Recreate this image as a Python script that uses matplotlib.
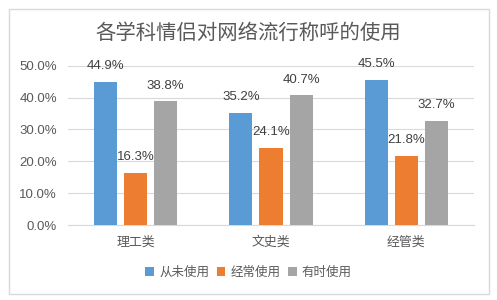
import matplotlib.pyplot as plt
import numpy as np
from matplotlib.patches import Rectangle
from matplotlib.ticker import FuncFormatter

plt.rcParams['font.family'] = ['Liberation Sans', 'Noto Sans CJK SC', 'DejaVu Sans']

categories = ['理工类', '文史类', '经管类']
series_names = ['从未使用', '经常使用', '有时使用']
never_used = [44.9, 35.2, 45.5]
often_used = [16.3, 24.1, 21.8]
sometimes_used = [38.8, 40.7, 32.7]
colors = ['#5B9BD5', '#ED7D31', '#A5A5A5']

text_color = '#595959'
grid_color = '#D9D9D9'

fig = plt.figure(figsize=(4.97, 3.0), dpi=100)
ax = fig.add_axes([68 / 497, 1 - 225 / 300, (474 - 68) / 497, (225 - 65.7) / 300])

# chart frame
fig.patches.append(Rectangle((9 / 497, 1 - 294 / 300), 480 / 497, 285 / 300,
                             transform=fig.transFigure, fill=False,
                             edgecolor=grid_color, linewidth=1))

x = np.arange(len(categories))
width = 0.17
step = 0.222
all_series = [never_used, often_used, sometimes_used]
for i, (name, vals) in enumerate(zip(series_names, all_series)):
    pos = x + (i - 1) * step
    bars = ax.bar(pos, np.array(vals) / 100, width, color=colors[i], label=name, zorder=3)
    for b, v in zip(bars, vals):
        ax.annotate(f'{v:.1f}%', (b.get_x() + b.get_width() / 2, b.get_height()),
                    xytext=(0, 7), textcoords='offset points', ha='center', va='bottom',
                    fontsize=9.5, color='#404040')

ax.set_xlim(-0.5, 2.5)
ax.set_ylim(0, 0.5)
ax.set_yticks(np.arange(0, 0.51, 0.1))
ax.yaxis.set_major_formatter(FuncFormatter(lambda v, p: f'{v * 100:.1f}%'))
ax.set_xticks(x)
ax.set_xticklabels(categories, family=['Noto Sans CJK SC'], fontsize=9.3)
ax.tick_params(axis='y', length=0, labelsize=9.5, labelcolor=text_color, pad=8)
ax.tick_params(axis='x', length=0, labelcolor=text_color, pad=8)
ax.grid(axis='y', color=grid_color, linewidth=0.8, zorder=0)
for s in ['top', 'right', 'left']:
    ax.spines[s].set_visible(False)
ax.spines['bottom'].set_color(grid_color)

fig.text(0.5, 1 - 33 / 300, '各学科情侣对网络流行称呼的使用', ha='center', va='center',
         fontsize=14.7, color=text_color, family=['Noto Sans CJK SC'], fontweight='light')

fig.legend(loc='center', bbox_to_anchor=(0.5, 1 - 272 / 300), ncol=3, frameon=False,
           prop={'family': 'Noto Sans CJK SC', 'size': 9}, labelcolor=text_color,
           handlelength=0.7, handleheight=0.7, handletextpad=0.4, columnspacing=0.6)

fig.savefig('out.png', dpi=100)
